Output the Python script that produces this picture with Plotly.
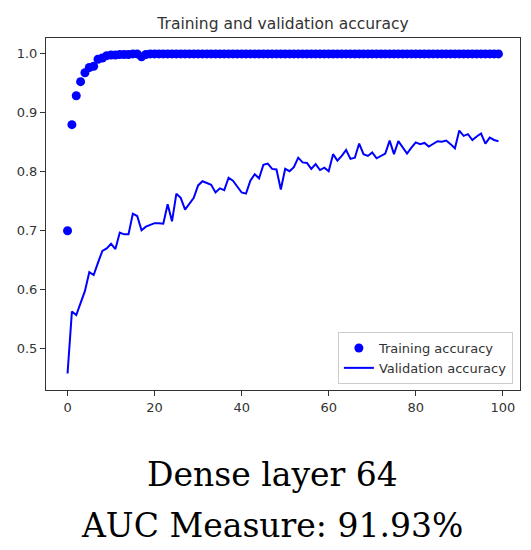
import plotly.graph_objects as go

# epochs 0..99
epochs = list(range(100))

train_acc = [
    0.700, 0.880, 0.929, 0.953, 0.968, 0.977, 0.979, 0.991, 0.993, 0.997,
    0.998, 0.998, 0.999, 0.999, 0.999, 1.000, 1.000, 0.995, 0.999, 1.000,
    1.000, 1.000, 1.000, 1.000, 1.000, 1.000, 1.000, 1.000, 1.000, 1.000,
    1.000, 1.000, 1.000, 1.000, 1.000, 1.000, 1.000, 1.000, 1.000, 1.000,
    1.000, 1.000, 1.000, 1.000, 1.000, 1.000, 1.000, 1.000, 1.000, 1.000,
    1.000, 1.000, 1.000, 1.000, 1.000, 1.000, 1.000, 1.000, 1.000, 1.000,
    1.000, 1.000, 1.000, 1.000, 1.000, 1.000, 1.000, 1.000, 1.000, 1.000,
    1.000, 1.000, 1.000, 1.000, 1.000, 1.000, 1.000, 1.000, 1.000, 1.000,
    1.000, 1.000, 1.000, 1.000, 1.000, 1.000, 1.000, 1.000, 1.000, 1.000,
    1.000, 1.000, 1.000, 1.000, 1.000, 1.000, 1.000, 1.000, 1.000, 1.000,
]

val_acc = [
    0.458, 0.563, 0.557, 0.578, 0.598, 0.630, 0.625, 0.646, 0.666, 0.670,
    0.678, 0.669, 0.697, 0.694, 0.694, 0.729, 0.725, 0.701, 0.707, 0.710,
    0.713, 0.713, 0.712, 0.745, 0.716, 0.763, 0.756, 0.736, 0.746, 0.756,
    0.777, 0.784, 0.781, 0.778, 0.765, 0.772, 0.769, 0.790, 0.785, 0.774,
    0.765, 0.763, 0.785, 0.796, 0.789, 0.812, 0.814, 0.805, 0.804, 0.770,
    0.805, 0.801, 0.808, 0.824, 0.816, 0.815, 0.805, 0.813, 0.803, 0.807,
    0.801, 0.830, 0.819, 0.827, 0.837, 0.822, 0.824, 0.848, 0.830, 0.827,
    0.833, 0.823, 0.827, 0.831, 0.853, 0.830, 0.852, 0.841, 0.831, 0.841,
    0.850, 0.847, 0.849, 0.843, 0.848, 0.852, 0.851, 0.853, 0.847, 0.840,
    0.870, 0.861, 0.864, 0.854, 0.860, 0.865, 0.848, 0.858, 0.854, 0.852,
]

x_ticks = [0, 20, 40, 60, 80, 100]
y_ticks = [0.5, 0.6, 0.7, 0.8, 0.9, 1.0]

caption_1 = "Dense layer 64"
caption_2 = "AUC Measure: 91.93%"

fig = go.Figure()
fig.add_trace(go.Scatter(x=epochs, y=train_acc, mode="markers", name="Training accuracy",
                         marker=dict(color="blue", size=9)))
fig.add_trace(go.Scatter(x=epochs, y=val_acc, mode="lines", name="Validation accuracy",
                         line=dict(color="blue", width=2)))

axis_style = dict(showline=True, linecolor="#333", linewidth=1, mirror=True,
                  ticks="outside", ticklen=5, tickcolor="#333", showgrid=False,
                  zeroline=False, tickfont=dict(size=13, color="#333"))

fig.update_xaxes(range=[-4.95, 103.95], tickvals=x_ticks, **axis_style)
fig.update_yaxes(range=[0.430, 1.027], tickvals=y_ticks, tickformat=".1f", **axis_style)

fig.update_layout(
    width=531, height=550,
    margin=dict(l=46, r=11, t=38, b=160),
    paper_bgcolor="white", plot_bgcolor="white",
    font=dict(family="DejaVu Sans", color="#333"),
    title=dict(text="Training and validation accuracy", x=0.533, xanchor="center",
               y=0.958, yanchor="middle", font=dict(size=15.5, color="#333")),
    legend=dict(x=0.985, y=0.017, xanchor="right", yanchor="bottom",
                bgcolor="white", bordercolor="#ccc", borderwidth=1,
                font=dict(size=13, color="#333")),
    annotations=[
        dict(text=caption_1, xref="paper", yref="paper", x=0.477, y=-0.239,
             xanchor="center", yanchor="middle", showarrow=False,
             font=dict(family="DejaVu Serif", size=33, color="black")),
        dict(text=caption_2, xref="paper", yref="paper", x=0.477, y=-0.386,
             xanchor="center", yanchor="middle", showarrow=False,
             font=dict(family="DejaVu Serif", size=33, color="black")),
    ],
)

# the page's default body margin would push the figure 8px off
fig.write_html("out.html", config={"displayModeBar": False},
               post_script="document.body.style.margin='0';")
